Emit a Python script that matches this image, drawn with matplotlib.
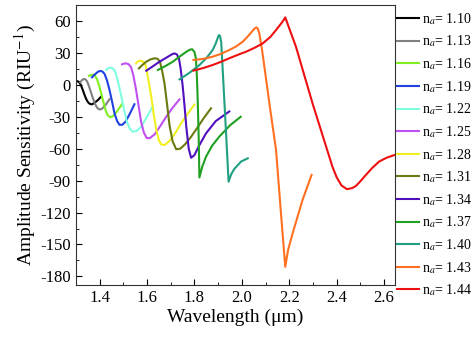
import matplotlib
matplotlib.use("Agg")
import matplotlib.pyplot as plt
from matplotlib.ticker import MultipleLocator

plt.rcParams['font.family'] = ['Liberation Serif', 'DejaVu Serif']
plt.rcParams['mathtext.fontset'] = 'stix'
plt.rcParams['axes.unicode_minus'] = False

# refractive index of analyte for each curve
na_labels = ['1.10', '1.13', '1.16', '1.19', '1.22', '1.25', '1.28',
             '1.31', '1.34', '1.37', '1.40', '1.43', '1.44']
colors = ['#000000', '#808080', '#80f020', '#2040e0', '#80ffe0', '#c050f0',
          '#f0f020', '#6b7a10', '#5010c0', '#20a020', '#20a080', '#ff7020',
          '#ee1010']

# wavelength (um) / amplitude sensitivity (RIU^-1)
wl_110 = [1.299, 1.305, 1.312, 1.320, 1.328, 1.336, 1.344, 1.352, 1.360, 1.368,
          1.378, 1.392, 1.407]
s_110 = [2.5, 3.5, 3.0, 0.5, -4, -9, -13.5, -16.5, -18, -18.3, -17, -14.5, -11]

wl_113 = [1.319, 1.326, 1.333, 1.340, 1.347, 1.355, 1.363, 1.372, 1.381, 1.390,
          1.400, 1.410, 1.425, 1.442]
s_113 = [2.5, 4.5, 5.5, 5.3, 3.5, -1, -6.5, -12.5, -18, -21.5, -23.2, -22.5,
         -19, -13.5]

wl_116 = [1.355, 1.363, 1.372, 1.381, 1.389, 1.398, 1.407, 1.416, 1.425, 1.434,
          1.445, 1.456, 1.470, 1.495]
s_116 = [8.4, 9.3, 9.6, 8.6, 5.5, -0.5, -8, -16, -23.5, -28.5, -30.4, -29.5,
         -26, -18]

wl_119 = [1.368, 1.380, 1.393, 1.403, 1.412, 1.421, 1.431, 1.442, 1.453, 1.463,
          1.474, 1.484, 1.496, 1.510, 1.528, 1.547]
s_119 = [7.1, 9.8, 12.3, 13.1, 12.6, 10.3, 4.5, -4.8, -16, -26.7, -34, -37.5,
         -37.5, -34.5, -27, -18.2]

wl_122 = [1.428, 1.436, 1.445, 1.455, 1.465, 1.474, 1.483, 1.493, 1.503, 1.515,
          1.527, 1.540, 1.555, 1.575, 1.600, 1.625]
s_122 = [14, 15.5, 16.2, 15.6, 13, 6.5, -2, -12, -23, -34.5, -41, -44, -43.5,
         -39.5, -30, -19.8]

wl_125 = [1.495, 1.503, 1.512, 1.522, 1.533, 1.543, 1.554, 1.565, 1.575, 1.587,
          1.599, 1.612, 1.632, 1.655, 1.681, 1.708, 1.737]
s_125 = [19.3, 20.0, 20.2, 19.5, 16.5, 8.5, -4.8, -20, -34.5, -45, -50, -50,
         -46.5, -39, -30, -21.5, -13.6]

wl_128 = [1.554, 1.562, 1.571, 1.582, 1.594, 1.605, 1.618, 1.628, 1.639, 1.650,
          1.660, 1.675, 1.695, 1.720, 1.744, 1.772, 1.800]
s_128 = [20.3, 22, 22.8, 22.0, 18.5, 6, -11, -27, -42, -52, -56, -56.5, -52.5,
         -45, -36, -27, -18.5]

wl_131 = [1.566, 1.582, 1.597, 1.615, 1.632, 1.645, 1.655, 1.665, 1.674, 1.685,
          1.695, 1.708, 1.723, 1.740, 1.760, 1.785, 1.810, 1.840, 1.870]
s_131 = [15.5, 19, 21.8, 24, 25, 24.5, 21.5, 12, 1, -19, -38, -53, -60.5, -60,
         -56, -49, -41, -31, -22]

wl_134 = [1.597, 1.625, 1.653, 1.685, 1.705, 1.716, 1.726, 1.735, 1.742, 1.750,
          1.758, 1.766, 1.776, 1.786, 1.800, 1.820, 1.849, 1.890, 1.947]
s_134 = [13.3, 17.5, 21.8, 26, 28.7, 29.6, 28.6, 24.5, 15, 0, -19, -40, -60,
         -68.5, -66, -57, -45.5, -34, -25]

wl_137 = [1.646, 1.680, 1.709, 1.740, 1.765, 1.780, 1.790, 1.800, 1.806, 1.810,
          1.814, 1.818, 1.821, 1.833, 1.849, 1.875, 1.905, 1.950, 1.995]
s_137 = [14, 18, 21.8, 27, 31, 33, 33.5, 31, 25, 10, -15, -50, -87, -77, -67.4,
         -57, -48.6, -38, -30]

wl_140 = [1.737, 1.760, 1.780, 1.800, 1.821, 1.850, 1.877, 1.890, 1.898, 1.903,
          1.908, 1.913, 1.924, 1.934, 1.944, 1.955, 1.968, 1.997, 2.025]
s_140 = [5.2, 8.5, 11.5, 15, 18.6, 25, 32.8, 39, 44, 46.8, 46, 40, -6, -48,
         -91, -84, -79, -72, -69]

wl_143 = [1.796, 1.840, 1.877, 1.910, 1.947, 1.975, 2.004, 2.025, 2.046, 2.055,
          2.062, 2.068, 2.074, 2.085, 2.095, 2.116, 2.144, 2.165, 2.178, 2.183,
          2.195, 2.214, 2.256, 2.294]
s_143 = [23.4, 24.5, 26.5, 29, 32.8, 36, 40.6, 45.5, 51, 53.2, 54, 52.5, 48, 33,
         17, -17.4, -61, -121, -157, -171, -155, -139.5, -108, -84.6]

wl_144 = [1.796, 1.840, 1.877, 1.910, 1.947, 1.980, 2.018, 2.055, 2.088, 2.120,
          2.144, 2.165, 2.178, 2.183, 2.228, 2.298, 2.382, 2.400, 2.420, 2.443,
          2.465, 2.481, 2.500, 2.523, 2.550, 2.579, 2.610, 2.642]
s_144 = [13.4, 16, 18.7, 21.5, 25, 28, 31.2, 35, 39, 45, 51.5, 57.5, 61.5, 63.4,
         35.9, -17.4, -77, -87, -94.5, -98, -97, -95, -90.5, -84.6, -78, -72,
         -68.5, -66]

wls = [wl_110, wl_113, wl_116, wl_119, wl_122, wl_125, wl_128,
       wl_131, wl_134, wl_137, wl_140, wl_143, wl_144]
sens = [s_110, s_113, s_116, s_119, s_122, s_125, s_128,
        s_131, s_134, s_137, s_140, s_143, s_144]

fig = plt.figure(figsize=(4.74, 3.38), dpi=100)
ax = fig.add_axes([0.160, 0.157, 0.673, 0.828])

for x, y, c, n in zip(wls, sens, colors, na_labels):
    ax.plot(x, y, color=c, lw=1.5, label='n$_{a}$= ' + n)

ax.set_xlim(1.3, 2.645)
ax.set_ylim(-188, 75)
ax.xaxis.set_major_locator(MultipleLocator(0.2))
ax.xaxis.set_minor_locator(MultipleLocator(0.1))
ax.yaxis.set_major_locator(MultipleLocator(30))
ax.yaxis.set_minor_locator(MultipleLocator(15))
ax.tick_params(which='both', direction='in', top=False, right=False, labelsize=12)
ax.tick_params(which='major', length=4)
ax.tick_params(which='minor', length=2)
for sp in ax.spines.values():
    sp.set_color('#333333')

ax.set_xlabel('Wavelength (\u03bcm)', fontsize=14, labelpad=2)
ax.set_ylabel('Amplitude Sensitivity (RIU$^{-1}$)', fontsize=14, labelpad=2)

ax.legend(loc='upper left', bbox_to_anchor=(1.0, 0.986), frameon=False,
          fontsize=10, handlelength=1.6, handletextpad=0.2,
          labelspacing=0.49, borderaxespad=0.0, borderpad=0.15)

fig.savefig('out.png', dpi=100)
